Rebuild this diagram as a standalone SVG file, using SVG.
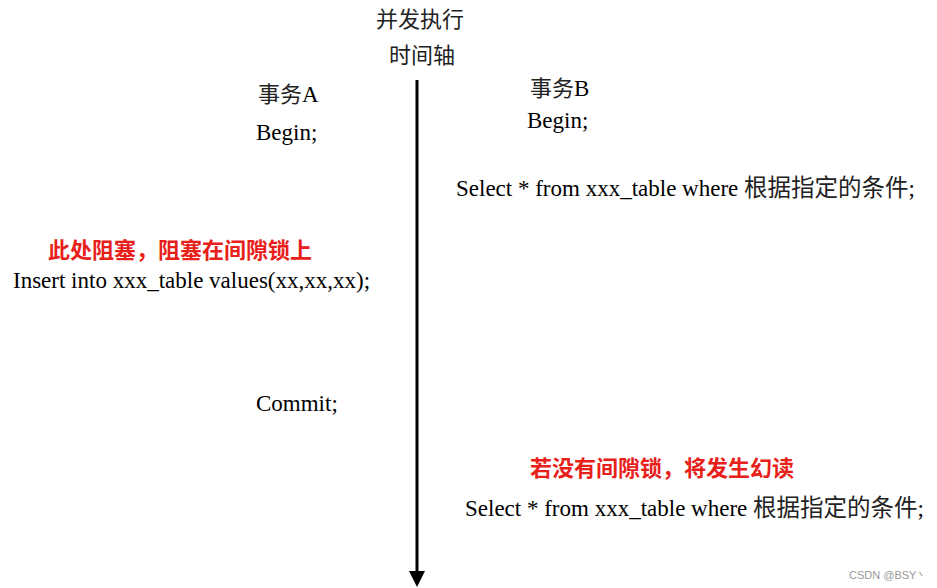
<svg xmlns="http://www.w3.org/2000/svg" width="937" height="588" viewBox="0 0 937 588">
<style>
.t{font-family:"Liberation Serif","Noto Sans CJK SC",serif;font-size:23px;fill:#000}
.c{font-family:"Noto Sans CJK SC",sans-serif;font-size:22px;fill:#222}
.c2{font-family:"Noto Sans CJK SC",sans-serif;font-size:23.5px;fill:#222}
.r{font-family:"Noto Sans CJK SC",sans-serif;font-size:22px;font-weight:bold;fill:#e8201a}
.w{font-family:"Liberation Sans",Arial,sans-serif;font-size:11px;fill:#999}
</style>
<rect width="937" height="588" fill="#fff"/>
<g id="connectors">
<line x1="417" y1="80" x2="417" y2="572" stroke="#000" stroke-width="3"/>
<polygon points="409,571 425,571 417,587" fill="#000"/>
</g>
<g id="axis-label">
<text class="c" x="420" y="27" text-anchor="middle">并发执行</text>
<text class="c" x="422" y="63" text-anchor="middle">时间轴</text>
</g>
<g id="txA">
<text class="c" x="258" y="102">事务<tspan class="t">A</tspan></text>
<text class="t" x="256" y="140">Begin;</text>
</g>
<g id="txB">
<text class="c" x="530" y="96">事务<tspan class="t">B</tspan></text>
<text class="t" x="527" y="128">Begin;</text>
</g>
<g id="selectB1">
<text class="t" x="456" y="196">Select * from xxx_table where <tspan class="c2">根据指定的条件</tspan>;</text>
</g>
<g id="insertA">
<text class="r" x="48" y="258">此处阻塞，阻塞在间隙锁上</text>
<text class="t" x="13" y="288">Insert into xxx_table values(xx,xx,xx);</text>
</g>
<g id="commitA">
<text class="t" x="256" y="411">Commit;</text>
</g>
<g id="selectB2">
<text class="r" x="530" y="476">若没有间隙锁，将发生幻读</text>
<text class="t" x="465" y="516">Select * from xxx_table where <tspan class="c2">根据指定的条件</tspan>;</text>
</g>
<text class="w" x="849" y="579">CSDN @BSY丶</text>
</svg>
